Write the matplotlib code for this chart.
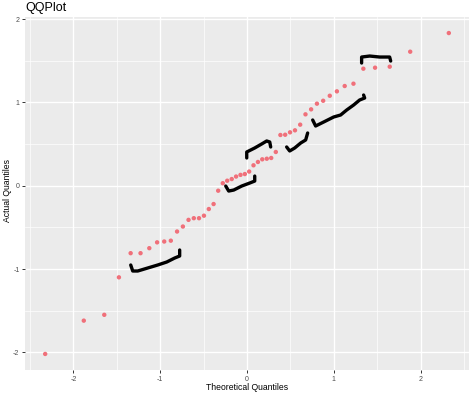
import matplotlib
matplotlib.use("Agg")
import matplotlib.pyplot as plt
import numpy as np

# Theoretical quantiles
theoretical = [-2.326, -1.881, -1.645, -1.476, -1.341, -1.227, -1.126, -1.036, -0.954, -0.878,
               -0.806, -0.739, -0.674, -0.613, -0.553, -0.496, -0.440, -0.385, -0.332, -0.279,
               -0.228, -0.176, -0.126, -0.075, -0.025, 0.025, 0.075, 0.126, 0.176, 0.228,
               0.279, 0.332, 0.385, 0.440, 0.496, 0.553, 0.613, 0.674, 0.739, 0.806,
               0.878, 0.954, 1.036, 1.126, 1.227, 1.341, 1.476, 1.645, 1.881, 2.326]
# Actual quantiles
actual = [-2.02, -1.62, -1.55, -1.10, -0.81, -0.81, -0.75, -0.68, -0.67, -0.66,
          -0.55, -0.49, -0.41, -0.39, -0.39, -0.36, -0.28, -0.22, -0.06, 0.03,
          0.06, 0.08, 0.11, 0.13, 0.14, 0.17, 0.245, 0.285, 0.317, 0.324,
          0.333, 0.405, 0.609, 0.612, 0.641, 0.665, 0.733, 0.857, 0.917, 0.985,
          1.02, 1.08, 1.133, 1.197, 1.225, 1.405, 1.417, 1.429, 1.609, 1.833]

# Hand-drawn bracket annotations (data coordinates)
bracket_a_x = [-1.340, -1.317, -1.259, -1.144, -1.029, -0.925, -0.833, -0.776, -0.776]
bracket_a_y = [-0.952, -1.024, -1.024, -0.988, -0.952, -0.916, -0.868, -0.844, -0.772]
bracket_b_x = [-0.245, -0.211, -0.153, -0.061, 0.031, 0.089, 0.089]
bracket_b_y = [-0.004, -0.064, -0.052, -0.004, 0.032, 0.056, 0.116]
bracket_c_x = [-0.003, -0.003, 0.089, 0.169, 0.227, 0.262, 0.273]
bracket_c_y = [0.333, 0.405, 0.453, 0.501, 0.537, 0.525, 0.465]
bracket_d_x = [0.457, 0.492, 0.550, 0.619, 0.676, 0.699]
bracket_d_y = [0.465, 0.417, 0.453, 0.513, 0.549, 0.633]
bracket_e_x = [0.757, 0.791, 0.884, 0.999, 1.079, 1.149, 1.229, 1.298, 1.356, 1.344]
bracket_e_y = [0.789, 0.717, 0.765, 0.825, 0.849, 0.909, 0.969, 1.029, 1.053, 1.089]
bracket_f_x = [1.321, 1.321, 1.414, 1.529, 1.644, 1.656]
bracket_f_y = [1.473, 1.545, 1.557, 1.545, 1.545, 1.497]

x_ticks = [-2, -1, 0, 1, 2]
y_ticks = [-2, -1, 0, 1, 2]
x_tick_labels = ["-2", "-1", "0", "1", "2"]
y_tick_labels = ["-2", "-1", "0", "1", "2"]

plt.rcParams['font.family'] = ['Liberation Sans', 'DejaVu Sans']

W, H = 474, 394
fig = plt.figure(figsize=(W/100, H/100), dpi=100)
fig.patch.set_facecolor('white')
ax = fig.add_axes([25/W, 1-370/H, (469-25)/W, (370-17)/H])
ax.set_facecolor('#EBEBEB')
for s in ax.spines.values():
    s.set_visible(False)

xmin, xmax = min(theoretical), max(theoretical)
ymin, ymax = min(actual), max(actual)
dx = (xmax - xmin) * 0.05
dy = (ymax - ymin) * 0.05
ax.set_xlim(xmin - dx, xmax + dx)
ax.set_ylim(ymin - dy, ymax + dy)

ax.set_xticks(x_ticks)
ax.set_xticklabels(x_tick_labels)
ax.set_yticks(y_ticks)
ax.set_yticklabels(y_tick_labels)
ax.set_xticks([-2.5, -1.5, -0.5, 0.5, 1.5, 2.5], minor=True)
ax.set_yticks([-1.5, -0.5, 0.5, 1.5], minor=True)
ax.grid(which='major', color='white', linewidth=1.0)
ax.grid(which='minor', color='white', linewidth=0.5)
ax.set_axisbelow(True)
ax.tick_params(which='major', length=2.5, width=0.7, color='#333333',
               labelsize=5, labelcolor='#4D4D4D', pad=1.5)
ax.tick_params(which='minor', length=0)

ax.scatter(theoretical, actual, s=10, color='#F0707A', edgecolors='none', zorder=3)

for bx, by in [(bracket_a_x, bracket_a_y), (bracket_b_x, bracket_b_y),
               (bracket_c_x, bracket_c_y), (bracket_d_x, bracket_d_y),
               (bracket_e_x, bracket_e_y), (bracket_f_x, bracket_f_y)]:
    ax.plot(bx, by, color='black', linewidth=2.4, solid_capstyle='round',
            solid_joinstyle='round', zorder=4)

fig.text(247/W, 1-388/H, 'Theoretical Quantiles', fontsize=6.2, color='black',
         ha='center', va='center')
fig.text(8/W, 1-190/H, 'Actual Quantiles', fontsize=6.2, color='black',
         ha='center', va='center', rotation=90)
fig.text(25/W, 1-8/H, 'QQPlot', fontsize=9, color='black', ha='left', va='center')

fig.savefig('out.png', dpi=100)
